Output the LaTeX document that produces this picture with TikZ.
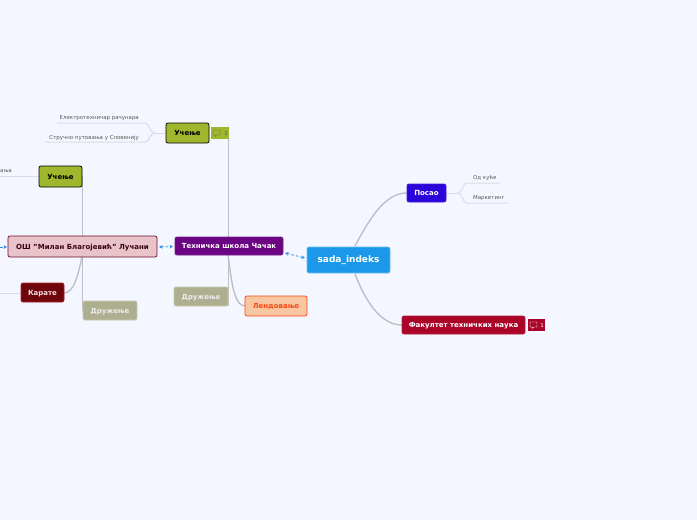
\documentclass[tikz,border=0pt]{standalone}
\usepackage{fontspec}
\setmainfont{DejaVu Sans}
\usetikzlibrary{arrows.meta}
\definecolor{pagebg}{HTML}{F4F7FF}
\definecolor{linegray}{HTML}{BDC0C5}
\definecolor{leafgray}{HTML}{D8DCE4}
\definecolor{linkblue}{HTML}{2F8FE8}
\definecolor{rootfill}{HTML}{1B98EA}
\definecolor{rootline}{HTML}{6CC0F2}
\definecolor{posaofill}{HTML}{2C04DA}
\definecolor{fakfill}{HTML}{AA0428}
\definecolor{tehfill}{HTML}{6A0482}
\definecolor{osfill}{HTML}{E8C4CA}
\definecolor{osline}{HTML}{6E0A28}
\definecolor{ostext}{HTML}{3C0014}
\definecolor{ucefill}{HTML}{A0B62C}
\definecolor{karfill}{HTML}{6E060C}
\definecolor{karline}{HTML}{AA1E28}
\definecolor{karaext}{HTML}{F5DCDC}
\definecolor{druzfill}{HTML}{AEAE90}
\definecolor{druzline}{HTML}{C8C8AF}
\definecolor{lendfill}{HTML}{F8C6A0}
\definecolor{lendline}{HTML}{FA4614}
\tikzset{
  topic/.style={rounded corners=2pt, line width=0.7pt, inner sep=0pt, text height=6.5pt, text depth=0.8pt, font=\bfseries\fontsize{7}{8}\selectfont},
  ucebox/.style={topic, draw=black, fill=ucefill, text=black},
  druzbox/.style={topic, draw=druzline, fill=druzfill, text=white!92!black},
  leaf/.style={font=\fontsize{5.45}{6}\selectfont, text=black!65, inner sep=0pt},
  badge/.style={inner sep=0pt, font=\fontsize{5.5}{6}\selectfont},
  branch/.style={draw=linegray, line width=1.4pt},
  twig/.style={draw=leafgray, line width=1pt},
  linkline/.style={draw=linkblue, dash pattern=on 2.5pt off 2pt, line width=0.8pt},
  relation/.style={linkline, {Stealth[length=3.5pt,width=3.5pt]}-{Stealth[length=3.5pt,width=3.5pt]}}
}
\newcommand{\boxnode}[7]{% name, x1, y1, x2, y2, style, text
  \node[#6, minimum width={(#4-#2)*1pt}, minimum height={(#5-#3)*1pt}] (#1) at ({(#2+#4)/2},{(#3+#5)/2}) {#7};}
\newcommand{\noteicon}[3]{% colour, x, y of the little bubble
  \draw[#1, line width=0.4pt, rounded corners=0.5pt] (#2,#3) -- ++(0,-5) -- ++(7,0) -- ++(0,5) -- ++(-3.6,0) -- ++(-1.2,1.7) -- ++(0,-1.7) -- cycle;}
\begin{document}
\begin{tikzpicture}[x=1pt,y=-1pt]
  \useasboundingbox[fill=pagebg] (0,0) rectangle (697,520);
  % connectors first, boxes on top
  \coordinate (rootup) at (355,246);
  \coordinate (rootdown) at (355,274);
  \coordinate (stemTeh) at (228,255);
  \coordinate (stemOs) at (82,257);
  \draw[branch] (rootup) .. controls (370,218) and (385,193) .. (407,193);
  \draw[branch] (rootdown) .. controls (365,300) and (380,325) .. (402,325);
  \draw[branch] (228.5,130) -- (228.5,306);
  \draw[branch] (stemTeh) .. controls (231,275) and (233,306) .. (245,306);
  \draw[branch] (82.5,176) -- (82.5,311);
  \draw[branch] (stemOs) .. controls (78,275) and (74,293) .. (64,293);
  % the small branches
  \coordinate (el) at (57,123);
  \coordinate (st) at (45,142);
  \coordinate (elk) at (145,123);
  \coordinate (stk) at (145,142);
  \coordinate (jt) at (155,133);
  \coordinate (ok) at (500,183);
  \coordinate (mk) at (508,203);
  \coordinate (okk) at (467,183);
  \coordinate (mkk) at (467,203);
  \coordinate (jp) at (458,193);
  \draw[twig] (el) -- (elk) .. controls (150,123) and (149,133) .. (jt);
  \draw[twig] (st) -- (stk) .. controls (150,142) and (149,133) .. (jt);
  \draw[twig] (jt) -- (166,133);
  \draw[twig] (ok) -- (okk) .. controls (462,183) and (463,193) .. (jp);
  \draw[twig] (mk) -- (mkk) .. controls (462,203) and (463,193) .. (jp);
  \draw[twig] (jp) -- (446,193);
  \coordinate (edgeA) at (0,176);
  \coordinate (edgeB) at (0,293);
  \coordinate (edgeC) at (0,247);
  \draw[twig] (edgeA) -- (39,176);
  \draw[twig] (edgeB) -- (21,293);
  % boxes
  \boxnode{root}{307}{247}{390}{273}{topic, draw=rootline, fill=rootfill, text=white, font=\bfseries\fontsize{9}{10}\selectfont}{sada\_indeks}
  \boxnode{posao}{407}{184}{446}{202}{topic, draw=posaofill!90!white, fill=posaofill, text=white}{Посао}
  \boxnode{fakultet}{402}{316}{525}{334}{topic, draw=fakfill!90!white, fill=fakfill, text=white}{Факултет техничких наука}
  \boxnode{tehnicka}{175}{237}{283}{255}{topic, draw=tehfill!90!white, fill=tehfill, text=white}{Техничка школа Чачак}
  \boxnode{os}{8}{236}{157}{257}{topic, draw=osline, fill=osfill, text=ostext}{ОШ \char34 Милан Благојевић\char34{} Лучани}
  \boxnode{uceTop}{166}{123}{209}{143}{ucebox}{Учење}
  \boxnode{uceLeft}{39}{166}{82}{187}{ucebox}{Учење}
  \boxnode{karate}{21}{283}{64}{302}{topic, draw=karline, fill=karfill, text=karaext}{Карате}
  \boxnode{druzLeft}{83}{301}{137}{320}{druzbox}{Дружење}
  \boxnode{druzMid}{174}{287}{228}{306}{druzbox}{Дружење}
  \boxnode{lendo}{245}{296}{307}{316}{topic, draw=lendline, fill=lendfill, text=lendline}{Лендовање}
  % comment badges
  \node[badge, fill=ucefill, text=black!70, minimum width=18pt, minimum height=12pt, text width=15.5pt, align=right] (noteTeh) at (220,133) {1};
  \node[badge, fill=fakfill, text=white, minimum width=17pt, minimum height=12pt, text width=14.5pt, align=right] (noteFak) at (536.5,325) {1};
  \noteicon{black!60}{213}{135}
  \noteicon{white}{530}{327}
  % leaves
  \node[leaf, anchor=base east] (elektro) at (139,119) {Електротехничар рачунара};
  \node[leaf, anchor=base east] (strucno) at (139,139) {Стручно путовања у Словенију};
  \node[leaf, anchor=base west] (odkuce) at (473,179.5) {Од куће};
  \node[leaf, anchor=base west] (market) at (473,199.5) {Маркетинг};
  \node[leaf, anchor=base east] (clipped) at (12,172) {ања};
  % links between the main topics
  \coordinate (tehout) at (285,253);
  \coordinate (rootin) at (305,258);
  \coordinate (osout) at (159,247);
  \coordinate (tehin) at (173,246.5);
  \coordinate (osin) at (7,247);
  \draw[relation] (tehout) -- (rootin);
  \draw[relation] (osout) -- (tehin);
  \draw[linkline, -{Stealth[length=3.5pt,width=3.5pt]}] (edgeC) -- (osin);
\end{tikzpicture}
\end{document}
